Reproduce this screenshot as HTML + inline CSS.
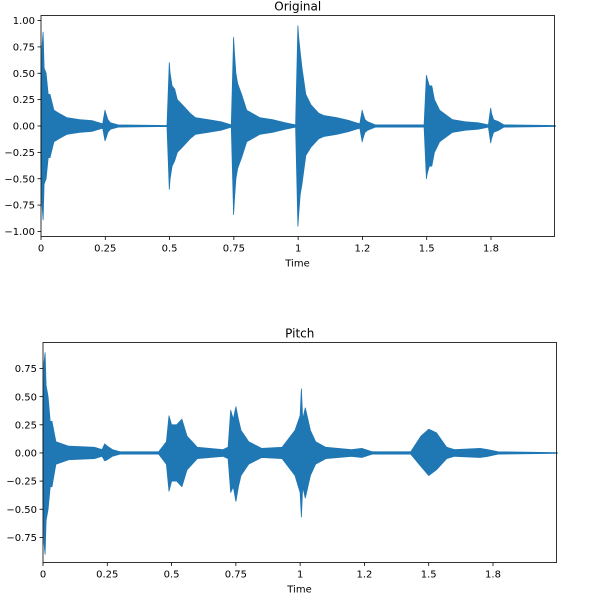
<!DOCTYPE html>
<html><head><meta charset="utf-8"><style>
body{margin:0;background:#fff;}
svg{display:block;font-family:"DejaVu Sans","Liberation Sans",sans-serif;}
</style></head><body>
<svg id="fig" width="604" height="613" viewBox="0 0 604 613" xmlns="http://www.w3.org/2000/svg"></svg>
<script>
// Shared x ticks
const xTickVals = [0,0.25,0.5,0.75,1,1.25,1.5,1.75];
const xTickLabels = ["0","0.25","0.5","0.75","1","1.2","1.5","1.8"];
// Original waveform envelope
const origTimes = [0,0.004,0.008,0.012,0.02,0.028,0.035,0.05,0.07,0.1,0.15,0.2,0.24,0.249,0.252,0.26,0.27,0.3,0.49,0.499,0.502,0.51,0.52,0.53,0.55,0.58,0.6,0.65,0.7,0.74,0.749,0.752,0.758,0.765,0.78,0.8,0.85,0.9,0.95,0.99,0.999,1.002,1.008,1.015,1.03,1.05,1.08,1.1,1.15,1.2,1.24,1.249,1.252,1.26,1.27,1.3,1.49,1.499,1.502,1.51,1.52,1.53,1.55,1.6,1.65,1.7,1.74,1.749,1.752,1.76,1.78,1.8,2.0];
const origUpper = [0.3,0.75,0.89,0.55,0.5,0.3,0.3,0.15,0.12,0.08,0.06,0.05,0.02,0.15,0.12,0.06,0.03,0.01,0.005,0.6,0.5,0.38,0.35,0.25,0.2,0.12,0.08,0.06,0.04,0.01,0.84,0.7,0.5,0.4,0.3,0.15,0.08,0.06,0.03,0.01,0.95,0.85,0.7,0.55,0.3,0.2,0.12,0.1,0.08,0.05,0.02,0.15,0.12,0.06,0.04,0.01,0.01,0.48,0.45,0.38,0.38,0.25,0.15,0.06,0.04,0.03,0.01,0.17,0.12,0.06,0.04,0.01,0.005];
const origLower = [-0.3,-0.75,-0.89,-0.55,-0.5,-0.3,-0.3,-0.15,-0.12,-0.08,-0.06,-0.05,-0.02,-0.14,-0.12,-0.06,-0.03,-0.01,-0.005,-0.6,-0.5,-0.38,-0.33,-0.25,-0.2,-0.12,-0.08,-0.06,-0.04,-0.01,-0.84,-0.7,-0.5,-0.4,-0.3,-0.15,-0.08,-0.06,-0.03,-0.01,-0.95,-0.85,-0.65,-0.55,-0.28,-0.2,-0.12,-0.1,-0.08,-0.05,-0.02,-0.15,-0.12,-0.06,-0.04,-0.01,-0.01,-0.5,-0.45,-0.38,-0.38,-0.25,-0.15,-0.06,-0.04,-0.03,-0.01,-0.16,-0.12,-0.06,-0.04,-0.01,-0.005];
// Pitch-shifted waveform envelope
const pitchTimes = [0,0.004,0.008,0.012,0.02,0.028,0.035,0.05,0.1,0.2,0.23,0.24,0.25,0.27,0.3,0.45,0.48,0.49,0.5,0.52,0.54,0.56,0.6,0.7,0.72,0.73,0.74,0.75,0.76,0.77,0.8,0.85,0.93,0.98,1.0,1.005,1.01,1.02,1.04,1.06,1.1,1.2,1.24,1.28,1.43,1.47,1.5,1.53,1.57,1.6,1.7,1.73,1.77,2.0];
const pitchUpper = [0.3,0.8,0.89,0.6,0.5,0.28,0.28,0.1,0.06,0.05,0.03,0.08,0.06,0.03,0.01,0.01,0.1,0.33,0.25,0.25,0.3,0.15,0.05,0.03,0.05,0.38,0.3,0.41,0.3,0.2,0.1,0.04,0.05,0.2,0.33,0.57,0.3,0.4,0.2,0.1,0.05,0.03,0.04,0.01,0.01,0.15,0.21,0.18,0.05,0.03,0.04,0.03,0.01,0.003];
const pitchLower = [-0.3,-0.8,-0.9,-0.6,-0.5,-0.3,-0.3,-0.1,-0.06,-0.05,-0.03,-0.07,-0.06,-0.03,-0.01,-0.01,-0.1,-0.34,-0.25,-0.25,-0.3,-0.15,-0.05,-0.03,-0.05,-0.35,-0.3,-0.43,-0.3,-0.2,-0.1,-0.04,-0.05,-0.2,-0.35,-0.57,-0.3,-0.4,-0.2,-0.1,-0.05,-0.03,-0.04,-0.01,-0.01,-0.12,-0.2,-0.15,-0.05,-0.03,-0.04,-0.03,-0.01,-0.003];
const origYTicks = [1,0.75,0.5,0.25,0,-0.25,-0.5,-0.75,-1];
const origYLabels = ["1.00","0.75","0.50","0.25","0.00","\u22120.25","\u22120.50","\u22120.75","\u22121.00"];
const pitchYTicks = [0.75,0.5,0.25,0,-0.25,-0.5,-0.75];
const pitchYLabels = ["0.75","0.50","0.25","0.00","\u22120.25","\u22120.50","\u22120.75"];

const NS="http://www.w3.org/2000/svg";
const fig=document.getElementById('fig');
function mk(tag,attrs,parent){const e=document.createElementNS(NS,tag);for(const k in attrs)e.setAttribute(k,attrs[k]);(parent||fig).appendChild(e);return e;}

function drawPanel(name,L,T,R,B,ymin,ymax,times,up,lo,yt,yl,title){
  const g=mk('g',{});
  
  
  const xs=t=>L+(t/1.997)*(R-L);
  const ys=v=>B-(v-ymin)/(ymax-ymin)*(B-T);
  let pts=[];
  for(let i=0;i<times.length;i++)pts.push(xs(times[i]).toFixed(1)+','+ys(up[i]).toFixed(1));
  for(let i=times.length-1;i>=0;i--)pts.push(xs(times[i]).toFixed(1)+','+ys(lo[i]).toFixed(1));
  const wave=mk('polygon',{points:pts.join(' '),fill:'#1f77b4',stroke:'#1f77b4','stroke-width':'0.8','stroke-linejoin':'round'},g);
  
  
  const frame=mk('rect',{x:L,y:T,width:R-L,height:B-T,fill:'none',stroke:'#000','stroke-width':'0.8'},g);
  
  
  for(let i=0;i<xTickVals.length;i++){
    const x=xs(xTickVals[i]);
    mk('line',{x1:x,y1:B,x2:x,y2:B+3.5,stroke:'#000','stroke-width':'0.8'},g);
    const t=mk('text',{x:x,y:B+15,'font-size':'10','text-anchor':'middle',fill:'#000'},g);
    t.textContent=xTickLabels[i];
    
    
  }
  for(let i=0;i<yt.length;i++){
    const y=ys(yt[i]);
    mk('line',{x1:L-3.5,y1:y,x2:L,y2:y,stroke:'#000','stroke-width':'0.8'},g);
    const t=mk('text',{x:L-6,y:y+3.6,'font-size':'10','text-anchor':'end',fill:'#000'},g);
    t.textContent=yl[i];
    
    
  }
  const xl=mk('text',{x:R-257,y:B+30,'font-size':'10','text-anchor':'middle',fill:'#000'},g);
  xl.textContent='Time';
  
  
  const tt=mk('text',{x:(L+R)/2,y:T-5,'font-size':'12','text-anchor':'middle',fill:'#000'},g);
  tt.textContent=title;
  
  
}
drawPanel('original',41,15.5,554.5,236.5,-1.0476,1.0476,origTimes,origUpper,origLower,origYTicks,origYLabels,'Original');
drawPanel('pitch',43,342.5,556.5,562.5,-0.973,0.981,pitchTimes,pitchUpper,pitchLower,pitchYTicks,pitchYLabels,'Pitch');
</script>
</body></html>
